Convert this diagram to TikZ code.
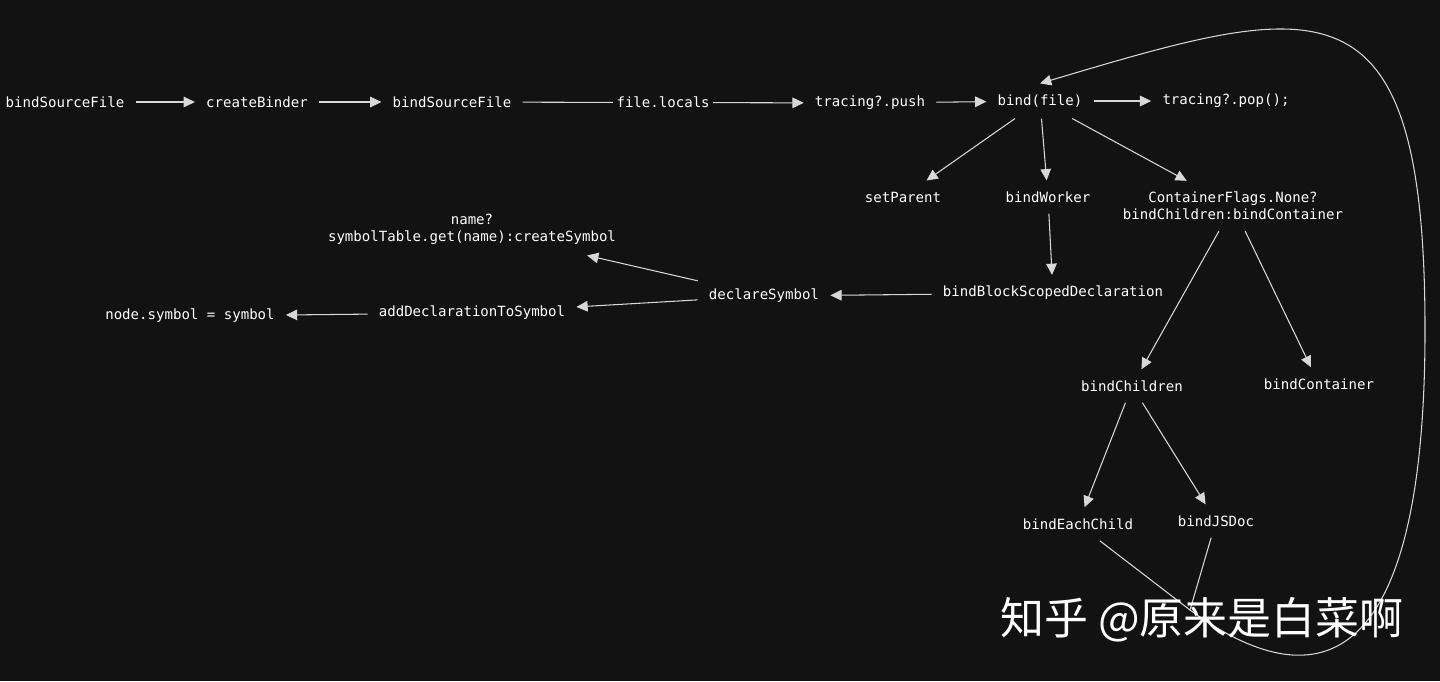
\documentclass[tikz,border=0pt]{standalone}
\usepackage{fontspec}
\setmonofont{DejaVu Sans Mono}
\newfontfamily\cjk{Noto Sans CJK SC}
\usetikzlibrary{arrows.meta,positioning}
\definecolor{bgcol}{HTML}{121212}
\definecolor{edgecol}{HTML}{D8D8D8}
\tikzset{
    fn/.style={text=white, font=\ttfamily\fontsize{4}{4.8}\selectfont, inner sep=3pt, align=center},
    call/.style={draw=edgecol, line width=0.3pt, -{Triangle[length=3.2pt,width=3pt]}},
    bare/.style={draw=edgecol, line width=0.3pt}
}
\begin{document}
\begin{tikzpicture}[x=0.01cm, y=-0.01cm]
    \fill[bgcol] (0,0) rectangle (1440,681);
    \useasboundingbox (0,0) rectangle (1440,681);
    % top row
    \node[fn] (bsfa) at (65,102) {bindSourceFile};
    \node[fn] (cb) at (257,102) {createBinder};
    \node[fn] (bsfb) at (452,102) {bindSourceFile};
    \node[fn] (push) at (870,103) {tracing?.push};
    \node[fn] (bind) at (1040,101) {bind(file)};
    \node[fn] (pop) at (1226,101) {tracing?.pop();};
    % second row
    \node[fn] (par) at (903,197) {setParent};
    \node[fn] (worker) at (1048,197) {bindWorker};
    \node[fn] (flags) at (1233,206) {ContainerFlags.None?\\bindChildren:bindContainer};
    \node[fn] (name) at (472,229) {name?\\symbolTable.get(name):createSymbol};
    \node[fn] (decl) at (764,296) {declareSymbol};
    \node[fn] (block) at (1053,293) {bindBlockScopedDeclaration};
    \node[fn] (add) at (472,313) {addDeclarationToSymbol};
    \node[fn] (sym) at (190,316) {node.symbol = symbol};
    % lower part
    \node[fn] (children) at (1132,386) {bindChildren};
    \node[fn] (container) at (1319,384) {bindContainer};
    \node[fn] (each) at (1078,524) {bindEachChild};
    \node[fn] (jsdoc) at (1216,521) {bindJSDoc};
    \coordinate (join) at (1190,610);
    \draw[call] (bsfa) -- (cb);
    \draw[call] (cb) -- (bsfb);
    \draw[call] (bsfb) -- node[fn, fill=bgcol, inner sep=1pt] {file.locals} (push);
    \draw[call] (push) -- (bind);
    \draw[call] (bind) -- (pop);
    \draw[call] (bind) -- (par);
    \draw[call] (bind) -- (worker);
    \draw[call] (bind) -- (flags);
    \draw[call] (worker) -- (block);
    \draw[call] (block) -- (decl);
    \draw[call] (decl) -- (name);
    \draw[call] (decl) -- (add);
    \draw[call] (add) -- (sym);
    \draw[call] (flags) -- (children);
    \draw[call] (flags) -- (container);
    \draw[call] (children) -- (each);
    \draw[call] (children) -- (jsdoc);
    \draw[bare] (each) -- (join);
    \draw[bare] (jsdoc) -- (join);
    \draw[call] (join) .. controls (1300,690) and (1425,700) .. (1425,330)
        .. controls (1425,-30) and (1320,0) .. (bind.north);
    \node[text=white, font=\cjk\fontsize{12.5}{13}\selectfont, inner sep=0pt] (mark) at (1202,620) {知乎 @原来是白菜啊};
\end{tikzpicture}
\end{document}
